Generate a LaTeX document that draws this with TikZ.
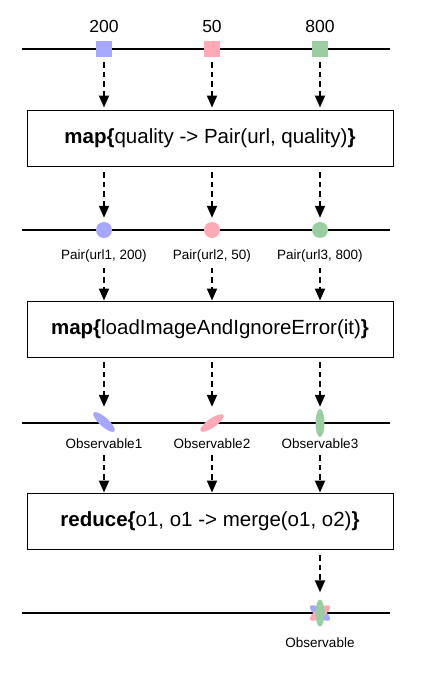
\documentclass[tikz,border=0pt]{standalone}
\usepackage{fontspec}
\setmainfont{Liberation Sans}
\usetikzlibrary{arrows.meta,shapes.geometric}

\definecolor{obsblue}{RGB}{166,168,255}
\definecolor{obspink}{RGB}{255,168,182}
\definecolor{obsgreen}{RGB}{152,206,160}

\begin{document}
\begin{tikzpicture}[
    x=1pt, y=-1pt,
    font=\fontsize{13.5}{16}\selectfont,
    % Timeline styles:
    timeline/.style={line width=2.4pt},
    square/.style={rectangle, minimum size=16pt, inner sep=0pt},
    dot/.style={circle, minimum size=16pt, inner sep=0pt},
    blob/.style={ellipse, minimum width=28pt, minimum height=9pt, inner sep=0pt},
    value/.style={font=\fontsize{17.5}{20}\selectfont},
    % Operator box style:
    opbox/.style={rectangle, draw, line width=0.9pt, minimum width=366pt,
                  minimum height=56pt, font=\fontsize{20.5}{22}\selectfont},
    % Arrow style:
    flow/.style={-{Triangle[width=10pt,length=12pt]}, line width=1.8pt,
                 dash pattern=on 5.5pt off 4pt},
]
\useasboundingbox (0,0) rectangle (421,678);

% --- TIMELINES ---
\draw[timeline] (22,49)  -- (390,49);
\draw[timeline] (22,230) -- (390,230);
\draw[timeline] (22,423) -- (390,423);
\draw[timeline] (22,613) -- (390,613);

% --- SOURCE ITEMS ---
\node[square, fill=obsblue]  (s1) at (104,49) {};
\node[square, fill=obspink]  (s2) at (212,49) {};
\node[square, fill=obsgreen] (s3) at (320,49) {};
\node[value] (v1) at (104,26) {200};
\node[value] (v2) at (212,26) {50};
\node[value] (v3) at (320,26) {800};

% --- OPERATORS ---
\node[opbox] (map1)   at (210,138) {\textbf{map\{}quality -> Pair(url, quality)\textbf{\}}};
\node[opbox] (map2)   at (210,329) {\textbf{map\{}loadImageAndIgnoreError(it)\textbf{\}}};
\node[opbox] (reduce) at (210,521) {\textbf{reduce\{}o1, o1 -> merge(o1, o2)\textbf{\}}};

% --- PAIRS ---
\node[dot, fill=obsblue]  (c1) at (104,230) {};
\node[dot, fill=obspink]  (c2) at (212,230) {};
\node[dot, fill=obsgreen] (c3) at (320,230) {};
\node (p1) at (104,256) {Pair(url1, 200)};
\node (p2) at (212,256) {Pair(url2, 50)};
\node (p3) at (320,256) {Pair(url3, 800)};

% --- OBSERVABLES ---
\node[blob, fill=obsblue, rotate=-42] (e1) at (104,422) {};
\node[blob, fill=obspink, rotate=35]  (e2) at (212,423) {};
\node[blob, fill=obsgreen, rotate=90] (e3) at (320,423) {};
\node (o1) at (104,444) {Observable1};
\node (o2) at (212,444) {Observable2};
\node (o3) at (320,444) {Observable3};

% merged observable
\node[blob, fill=obsblue, minimum width=24pt, rotate=-35] (m1) at (320,613) {};
\node[blob, fill=obspink, minimum width=24pt, rotate=35]  (m2) at (320,613) {};
\node[blob, fill=obsgreen, minimum width=27pt, rotate=90] (m3) at (320,613) {};
\node (out) at (320,643) {Observable};

% --- ARROWS ---
\foreach \i in {1,2,3} {
  \draw[flow, shorten <=5pt, shorten >=2pt] (s\i) -- (s\i |- map1.north);
  \draw[flow, shorten <=6pt, shorten >=4pt] (s\i |- map1.south) -- (c\i);
  \draw[flow, shorten <=2pt] (p\i) -- (p\i |- map2.north);
  \draw[flow, shorten <=5pt, shorten >=2pt] (p\i |- map2.south) -- (p\i |- e3.east);
  \draw[flow, shorten <=3pt] (o\i) -- (o\i |- reduce.north);
}
\draw[flow, shorten <=6pt, shorten >=7pt] (m3 |- reduce.south) -- (m3.east);

\end{tikzpicture}
\end{document}
